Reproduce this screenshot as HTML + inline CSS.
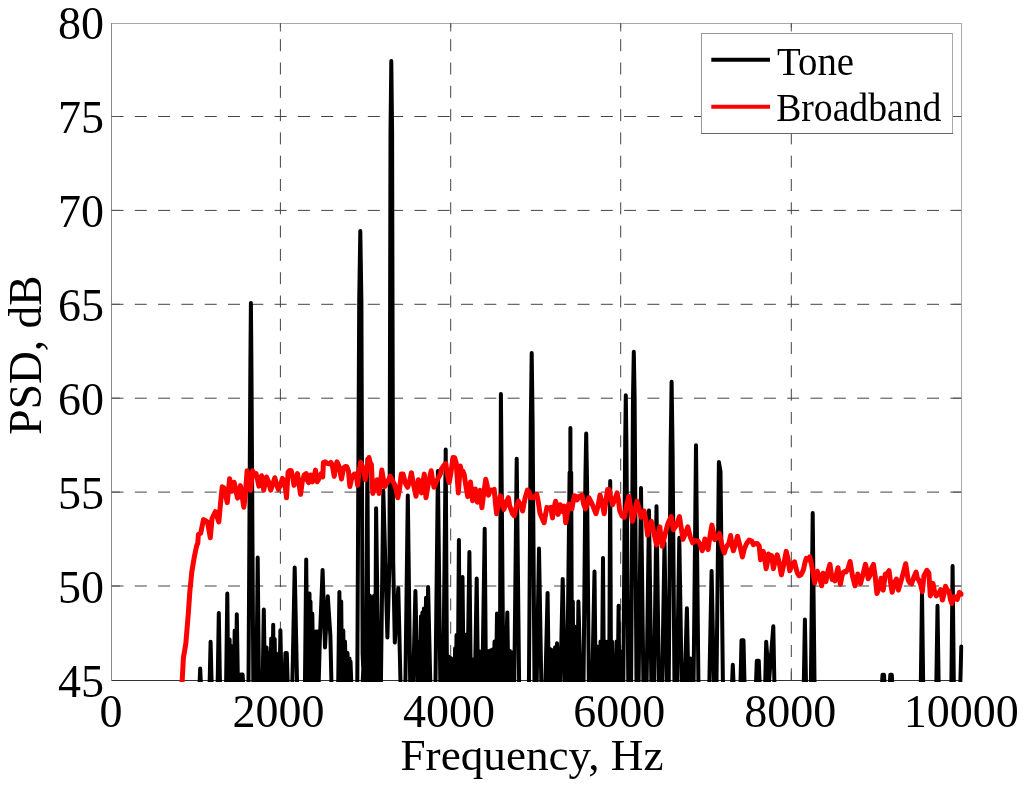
<!DOCTYPE html>
<html><head><meta charset="utf-8"><style>
html,body{margin:0;padding:0;background:#fff;}
svg{display:block;}
text{font-family:"Liberation Serif","Times New Roman",serif;fill:#000;}
</style></head><body>
<svg width="1024" height="793" viewBox="0 0 1024 793">
<rect x="0" y="0" width="1024" height="793" fill="#fff"/>
<defs><clipPath id="ax"><rect x="105" y="20" width="858.5" height="662"/></clipPath></defs>
<g stroke="#444" stroke-width="1" stroke-dasharray="12 11.3" fill="none">
<line x1="280.4" y1="680.3" x2="280.4" y2="23.0"/>
<line x1="450.7" y1="680.3" x2="450.7" y2="23.0"/>
<line x1="620.7" y1="680.3" x2="620.7" y2="23.0"/>
<line x1="791.3" y1="680.3" x2="791.3" y2="23.0"/>
<line x1="111.5" y1="116.5" x2="961.3" y2="116.5"/>
<line x1="111.5" y1="210.4" x2="961.3" y2="210.4"/>
<line x1="111.5" y1="304.3" x2="961.3" y2="304.3"/>
<line x1="111.5" y1="398.2" x2="961.3" y2="398.2"/>
<line x1="111.5" y1="492.1" x2="961.3" y2="492.1"/>
<line x1="111.5" y1="586.0" x2="961.3" y2="586.0"/>
</g>
<g stroke="#555" stroke-width="1" fill="none">
<line x1="111.5" y1="23.5" x2="961.5" y2="23.5" stroke="#aaa"/>
<line x1="111.5" y1="23.0" x2="111.5" y2="680.3" stroke="#888"/>
<line x1="961.5" y1="23.0" x2="961.5" y2="680.3" stroke="#aaa"/>
<line x1="111.5" y1="680.5" x2="961.5" y2="680.5" stroke="#333"/>
<line x1="280.4" y1="680.3" x2="280.4" y2="671.8"/>
<line x1="280.4" y1="23.0" x2="280.4" y2="31.5"/>
<line x1="450.7" y1="680.3" x2="450.7" y2="671.8"/>
<line x1="450.7" y1="23.0" x2="450.7" y2="31.5"/>
<line x1="620.7" y1="680.3" x2="620.7" y2="671.8"/>
<line x1="620.7" y1="23.0" x2="620.7" y2="31.5"/>
<line x1="791.3" y1="680.3" x2="791.3" y2="671.8"/>
<line x1="791.3" y1="23.0" x2="791.3" y2="31.5"/>
<line x1="111.5" y1="116.5" x2="120.0" y2="116.5"/>
<line x1="961.3" y1="116.5" x2="952.8" y2="116.5"/>
<line x1="111.5" y1="210.4" x2="120.0" y2="210.4"/>
<line x1="961.3" y1="210.4" x2="952.8" y2="210.4"/>
<line x1="111.5" y1="304.3" x2="120.0" y2="304.3"/>
<line x1="961.3" y1="304.3" x2="952.8" y2="304.3"/>
<line x1="111.5" y1="398.2" x2="120.0" y2="398.2"/>
<line x1="961.3" y1="398.2" x2="952.8" y2="398.2"/>
<line x1="111.5" y1="492.1" x2="120.0" y2="492.1"/>
<line x1="961.3" y1="492.1" x2="952.8" y2="492.1"/>
<line x1="111.5" y1="586.0" x2="120.0" y2="586.0"/>
<line x1="961.3" y1="586.0" x2="952.8" y2="586.0"/>
</g>
<g clip-path="url(#ax)" fill="none" stroke-linejoin="round" stroke-linecap="round">
<polyline points="185.0,700.0 198.8,700.0 200.2,668.5 201.6,700.0 209.2,700.0 210.6,641.8 212.0,700.0 217.4,700.0 218.8,613.1 220.2,700.0 225.9,700.0 227.3,593.5 228.4,700.0 229.6,639.5 230.1,700.0 230.6,645.5 231.6,700.0 232.6,646.5 233.6,700.0 234.7,630.4 235.8,700.0 236.8,614.3 238.2,700.0 239.4,700.0 240.8,674.5 242.6,674.5 244.0,700.0 248.4,700.0 250.4,361.5 250.9,303.0 251.4,361.5 253.4,700.0 256.3,700.0 257.7,557.5 259.1,700.0 262.4,700.0 263.8,609.5 265.2,700.0 266.6,647.5 267.9,700.0 269.2,652.5 270.2,700.0 271.2,638.6 272.2,700.0 273.2,624.7 273.9,700.0 274.7,639.1 275.4,700.0 276.2,653.5 277.2,700.0 278.2,656.5 279.3,700.0 280.4,630.3 281.8,700.0 284.0,700.0 285.4,653.0 286.8,653.0 288.2,700.0 292.0,700.0 293.4,631.5 294.7,567.6 296.0,631.5 297.4,700.0 304.8,700.0 306.2,559.5 307.2,656.5 308.6,700.0 308.1,700.0 309.5,593.5 310.0,700.0 310.5,601.5 311.4,700.0 312.3,613.5 313.7,700.0 314.4,700.0 315.8,631.5 317.3,631.5 318.5,690.0 319.8,641.5 322.6,569.9 325.0,647.5 327.8,596.3 330.4,636.0 331.8,700.0 338.0,700.0 339.4,592.0 340.3,700.0 341.2,601.5 342.2,700.0 343.3,630.5 344.1,700.0 345.0,641.5 346.4,700.0 346.1,700.0 347.5,653.0 348.5,700.0 349.5,658.5 350.0,700.0 350.5,661.5 351.9,700.0 357.2,700.0 359.2,301.5 360.3,231.0 361.4,301.5 362.6,653.5 364.6,700.0 361.9,700.0 364.5,641.5 365.9,700.0 367.4,459.0 368.5,700.0 369.7,595.5 370.9,700.0 372.0,597.5 373.1,700.0 374.2,595.5 375.1,700.0 376.1,508.2 378.7,700.0 380.7,700.0 383.3,490.5 387.4,637.5 389.5,561.5 390.1,301.5 390.5,131.5 391.3,61.0 392.1,131.5 392.5,301.5 393.2,561.5 394.8,642.5 398.3,588.0 400.9,700.0 405.2,700.0 407.8,495.5 410.4,700.0 412.8,700.0 415.4,591.0 418.0,700.0 417.0,700.0 419.6,641.5 420.3,700.0 421.0,616.2 421.7,700.0 422.4,612.4 423.2,700.0 423.9,608.6 424.9,700.0 426.0,597.8 427.1,700.0 428.1,586.9 430.7,700.0 435.3,700.0 437.9,471.0 440.5,700.0 443.1,700.0 445.7,449.4 447.1,700.0 448.5,656.5 449.2,700.0 449.9,657.5 450.6,700.0 451.3,658.5 452.5,700.0 453.7,661.5 454.4,700.0 455.1,648.3 455.8,700.0 456.5,635.1 457.7,700.0 458.9,539.9 460.0,700.0 461.2,623.5 461.9,700.0 462.5,577.1 463.8,700.0 465.0,634.5 467.2,700.0 469.4,551.9 471.0,700.0 472.6,659.5 474.6,700.0 476.7,578.4 478.2,700.0 479.8,651.5 482.4,700.0 482.1,700.0 484.7,528.7 486.1,700.0 487.5,651.5 488.2,700.0 488.9,651.0 489.6,700.0 490.3,650.5 491.4,700.0 492.4,649.5 493.4,700.0 494.5,641.5 495.8,700.0 497.0,613.4 497.8,700.0 498.6,641.5 499.8,700.0 500.9,394.1 503.5,700.0 504.7,700.0 507.3,612.5 508.6,700.0 510.0,651.1 510.6,700.0 511.3,652.3 512.0,700.0 512.6,653.5 515.2,700.0 514.1,700.0 516.7,458.8 519.3,700.0 528.8,700.0 530.8,421.5 531.7,353.0 532.6,421.5 534.6,700.0 536.4,700.0 539.0,548.5 541.6,700.0 545.0,700.0 547.6,592.9 549.0,700.0 550.4,649.2 551.1,700.0 551.8,650.1 552.5,700.0 553.2,651.1 554.2,700.0 555.1,647.2 556.0,700.0 557.0,643.2 559.6,700.0 560.1,700.0 562.7,578.9 565.3,700.0 567.0,700.0 569.6,472.5 570.0,700.0 570.4,428.0 570.8,700.0 571.2,472.5 572.0,700.0 572.8,601.5 573.6,700.0 574.4,626.5 574.8,700.0 575.2,656.5 575.7,700.0 576.2,641.5 577.3,700.0 578.4,601.6 581.0,700.0 583.4,700.0 585.4,478.5 586.2,433.6 587.0,478.5 589.0,700.0 591.9,700.0 594.5,571.5 595.8,700.0 597.0,646.5 597.9,700.0 598.7,656.5 599.6,700.0 600.5,641.5 601.8,700.0 603.0,558.1 604.0,700.0 605.0,641.5 605.8,700.0 606.6,661.5 607.3,700.0 608.0,641.5 609.1,700.0 610.2,481.1 611.1,700.0 612.0,641.5 613.2,700.0 614.4,656.5 615.5,700.0 616.5,641.5 617.5,700.0 618.6,605.8 619.5,700.0 620.5,651.5 621.4,700.0 622.2,666.5 624.8,700.0 623.2,700.0 625.2,441.5 625.8,395.3 626.4,441.5 628.4,700.0 631.0,700.0 633.0,396.5 633.8,351.7 634.6,396.5 636.6,700.0 638.4,700.0 641.0,488.1 643.6,700.0 646.4,700.0 649.0,510.6 651.6,700.0 653.9,700.0 656.5,506.2 659.1,700.0 661.9,700.0 664.5,542.5 667.1,700.0 668.6,700.0 670.6,451.5 671.6,381.8 672.6,451.5 674.6,700.0 676.7,700.0 679.3,537.7 681.9,700.0 684.3,700.0 686.9,608.3 688.7,700.0 690.5,658.5 693.1,700.0 693.4,700.0 696.0,445.3 698.6,700.0 709.0,700.0 711.6,571.0 714.2,700.0 716.3,700.0 718.9,462.1 720.5,471.5 723.1,700.0 731.4,700.0 732.8,664.8 734.2,700.0 740.1,700.0 741.5,640.2 743.5,640.2 744.9,700.0 755.4,700.0 756.8,660.7 758.8,660.7 760.2,700.0 764.8,700.0 766.2,641.8 769.0,681.5 773.3,626.3 774.7,700.0 803.5,700.0 804.9,619.5 806.3,700.0 810.7,700.0 812.7,512.9 814.7,700.0 881.1,700.0 882.5,674.8 884.0,674.8 885.4,700.0 888.9,700.0 890.3,674.8 891.8,674.8 893.2,700.0 920.6,700.0 922.0,591.5 923.4,700.0 936.1,700.0 937.5,605.8 938.9,700.0 951.2,700.0 952.6,566.1 954.0,700.0 959.9,700.0 961.3,646.5" stroke="#000" stroke-width="4"/>
<polyline points="181.5,695.0 182.2,680.0 183.4,658.0 185.8,643.7 188.2,615.0 189.9,591.0 191.8,572.0 194.2,557.5 196.6,546.0 197.8,543.0 198.4,534.4 200.7,533.3 203.5,519.6 205.8,520.8 207.5,522.0 210.3,537.8 212.0,518.5 215.4,511.7 218.8,522.0 220.5,503.8 222.2,486.8 223.9,487.9 227.3,502.6 229.6,478.8 231.9,491.3 234.1,482.2 237.5,498.1 240.4,485.6 242.1,496.2 243.8,507.2 245.0,498.5 247.1,470.8 248.8,480.8 250.5,490.2 252.6,470.8 254.4,474.3 256.1,473.6 257.5,479.7 258.9,486.1 260.2,480.9 261.6,475.7 263.7,490.2 265.1,484.0 266.5,477.0 268.6,482.0 270.7,490.2 272.8,484.0 274.8,477.7 276.6,484.2 278.3,489.5 280.4,485.4 282.4,478.4 284.2,482.0 285.4,487.9 286.5,497.8 288.1,472.2 289.6,470.5 291.2,470.8 292.6,476.1 294.0,485.4 295.8,481.0 297.5,473.6 299.1,485.0 300.6,494.4 302.3,481.2 304.2,475.1 306.2,473.6 307.4,480.5 308.6,482.6 310.7,475.0 312.4,481.9 313.9,478.3 315.5,470.1 317.2,481.9 319.1,478.5 321.1,473.6 322.8,477.0 323.4,462.5 325.2,461.8 327.3,463.4 329.4,463.9 330.8,462.5 332.2,464.6 334.2,476.4 335.6,466.7 337.0,461.8 339.1,466.6 340.3,473.0 341.5,479.1 343.5,468.0 345.4,466.5 346.9,466.7 348.5,471.4 349.9,486.6 351.3,479.9 352.7,476.2 354.4,473.9 356.2,474.1 357.6,485.2 359.1,471.4 360.7,462.3 362.2,466.0 363.8,470.0 365.2,479.7 367.1,468.3 369.0,457.5 370.2,462.7 371.4,464.4 372.8,493.5 374.9,486.7 377.0,479.7 379.1,493.5 380.5,482.5 381.8,470.0 383.2,478.3 384.6,486.6 387.4,482.2 390.2,476.2 392.2,479.8 394.3,483.8 396.1,489.6 397.8,497.7 399.6,488.4 401.3,474.1 403.1,474.1 405.4,483.2 407.6,487.3 409.5,481.7 411.4,472.7 413.7,485.5 416.0,496.3 417.2,487.1 418.4,479.7 419.9,484.9 421.5,492.9 422.9,482.4 424.3,474.1 426.0,497.7 428.6,482.1 431.2,470.7 432.6,480.3 434.0,487.3 436.4,481.6 438.8,476.9 440.2,474.5 441.6,468.6 443.7,465.6 445.8,463.7 447.5,475.3 449.2,482.4 451.1,471.7 453.0,457.5 454.6,457.8 456.2,463.0 458.3,492.9 460.3,466.0 461.5,471.0 462.9,471.2 464.2,474.4 465.6,484.1 467.7,496.6 469.1,491.4 470.5,482.0 472.6,500.8 474.0,494.7 475.3,489.0 477.4,502.2 478.8,498.7 480.2,490.4 481.9,507.7 483.8,493.0 485.7,479.3 487.1,485.1 488.5,495.2 490.5,490.0 492.4,490.3 494.2,489.4 495.4,502.9 496.6,513.7 498.5,503.5 500.4,495.7 502.1,500.5 503.9,509.5 506.1,502.8 508.4,497.7 509.6,505.6 510.8,508.8 512.5,513.6 514.3,515.8 516.3,506.6 518.4,501.2 520.5,504.8 522.6,510.9 525.0,498.5 527.4,490.1 529.1,491.7 530.9,497.7 533.8,497.5 536.8,494.3 538.3,502.0 539.9,513.0 542.0,518.1 544.1,522.7 545.5,514.8 546.9,507.4 549.0,508.5 550.8,507.4 552.5,517.9 554.0,508.0 555.6,501.2 556.9,509.0 558.1,514.4 560.1,504.7 561.4,506.3 562.6,511.6 564.3,506.1 565.7,522.7 567.2,514.1 568.8,504.0 570.3,504.5 571.9,508.8 573.1,501.9 574.4,495.7 575.8,496.3 577.1,499.8 579.5,496.2 582.0,495.0 583.7,504.3 585.4,508.8 587.1,504.8 588.9,497.7 592.4,504.7 595.9,513.7 598.0,506.3 600.0,495.0 602.1,502.9 604.2,513.7 605.9,501.0 607.6,489.4 609.2,489.4 610.9,498.8 612.6,504.7 614.9,499.5 617.1,492.9 618.4,499.6 619.6,510.2 622.0,516.1 624.4,517.2 626.6,505.4 628.9,496.4 630.6,507.6 632.4,521.3 634.6,512.6 636.9,501.2 639.0,508.3 641.1,517.2 642.7,513.1 644.2,511.0 645.9,521.0 647.6,535.2 649.5,526.3 651.4,521.4 654.0,533.6 656.6,544.9 658.2,534.6 659.8,526.9 661.0,537.1 662.2,546.3 665.0,534.6 667.7,524.1 669.5,520.1 671.2,516.5 673.3,529.7 676.4,525.4 679.5,516.5 681.2,527.9 683.0,539.4 685.4,533.5 687.8,526.9 690.2,536.7 692.7,542.8 695.4,540.4 698.0,541.1 700.1,544.2 702.2,550.8 703.5,546.9 704.9,539.0 706.5,545.8 708.1,549.4 710.0,536.0 711.9,525.1 713.2,530.8 714.6,539.7 717.0,537.7 719.5,533.4 722.0,545.4 724.4,552.9 725.8,547.9 727.1,545.9 728.9,543.0 730.6,535.5 732.0,545.1 733.4,550.8 735.5,544.0 737.5,536.2 740.0,546.2 742.4,557.0 744.5,548.4 746.5,543.8 749.1,540.1 751.7,541.1 753.4,544.7 755.0,543.7 757.1,543.4 759.2,545.8 760.5,559.7 761.9,556.6 763.3,551.4 764.7,558.8 766.1,568.7 767.3,563.0 768.5,554.1 770.0,555.3 771.6,555.5 773.4,568.7 775.3,560.7 777.2,554.8 779.3,563.2 781.4,574.9 783.8,564.3 786.2,551.4 788.0,558.9 789.7,570.8 792.1,564.9 794.5,561.8 795.9,567.6 797.3,572.9 799.0,575.7 800.8,574.9 802.1,572.7 803.5,569.4 804.9,562.8 806.3,558.3 808.0,559.7 809.8,556.9 811.5,564.4 813.3,574.9 814.8,583.0 816.0,574.7 817.2,571.2 819.5,577.3 821.7,585.8 823.1,573.3 824.5,577.2 825.9,581.6 828.0,570.8 830.0,564.3 832.1,579.5 833.5,578.6 834.9,580.9 836.5,573.6 838.0,567.7 839.2,576.4 840.4,584.4 841.8,576.7 843.2,572.6 844.6,571.6 846.0,571.9 848.0,568.7 850.1,561.5 852.5,576.1 855.0,585.8 856.4,580.7 857.8,574.0 859.1,579.8 860.5,583.7 863.0,574.4 865.4,564.3 866.8,569.8 868.2,578.8 870.0,575.5 871.8,567.6 873.5,564.4 875.2,576.5 876.9,593.5 879.0,588.0 881.1,578.3 883.2,590.1 885.3,574.1 887.2,573.4 889.1,570.7 890.7,583.8 892.2,592.2 894.3,583.2 896.4,579.0 898.4,590.1 902.0,577.6 905.7,563.7 906.9,571.6 908.1,579.7 909.9,582.9 911.6,583.8 913.9,577.0 916.1,572.0 917.3,578.3 918.5,579.7 920.4,583.6 922.3,591.8 924.0,575.8 925.4,573.3 926.8,570.3 928.9,573.0 930.3,595.9 931.6,590.8 933.0,583.4 934.6,591.7 936.2,595.9 938.5,594.0 940.7,589.7 942.4,600.1 944.0,594.2 945.5,586.2 947.2,590.1 949.0,591.1 950.4,599.4 951.8,603.5 953.1,599.3 954.5,596.6 955.9,598.9 957.3,599.4 959.4,592.4 961.5,594.2" stroke="#f00" stroke-width="5"/>
</g>
<g font-size="46">
<text x="104" y="39.2" text-anchor="end">80</text>
<text x="104" y="133.1" text-anchor="end">75</text>
<text x="104" y="227.0" text-anchor="end">70</text>
<text x="104" y="320.9" text-anchor="end">65</text>
<text x="104" y="414.8" text-anchor="end">60</text>
<text x="104" y="508.7" text-anchor="end">55</text>
<text x="104" y="602.6" text-anchor="end">50</text>
<text x="104" y="696.5" text-anchor="end">45</text>
<text x="110.9" y="726.5" text-anchor="middle">0</text>
<text x="278.5" y="726.5" text-anchor="middle">2000</text>
<text x="448.9" y="726.5" text-anchor="middle">4000</text>
<text x="619.2" y="726.5" text-anchor="middle">6000</text>
<text x="790.2" y="726.5" text-anchor="middle">8000</text>
<text x="961.2" y="726.5" text-anchor="middle">10000</text>
</g>
<text x="532" y="770.3" text-anchor="middle" font-size="45" textLength="263" lengthAdjust="spacingAndGlyphs">Frequency, Hz</text>
<text transform="translate(41,355) rotate(-90)" text-anchor="middle" font-size="45.5">PSD, dB</text>
<g>
<rect x="701.5" y="33.5" width="251" height="100" fill="#fff"/>
<g stroke-width="1" fill="none">
<line x1="701" y1="33.5" x2="953" y2="33.5" stroke="#999"/>
<line x1="952.5" y1="33" x2="952.5" y2="134" stroke="#aaa"/>
<line x1="701.5" y1="33" x2="701.5" y2="134" stroke="#999"/>
<line x1="701" y1="133.5" x2="953" y2="133.5" stroke="#666"/>
</g>
<line x1="711.3" y1="59.8" x2="770" y2="59.8" stroke="#000" stroke-width="4"/>
<line x1="711.3" y1="106.8" x2="770" y2="106.8" stroke="#f00" stroke-width="4"/>
<text x="777" y="74.6" font-size="39" textLength="77" lengthAdjust="spacingAndGlyphs">Tone</text>
<text x="776.2" y="121.4" font-size="39" textLength="165.2" lengthAdjust="spacingAndGlyphs">Broadband</text>
</g>
</svg>
</body></html>
